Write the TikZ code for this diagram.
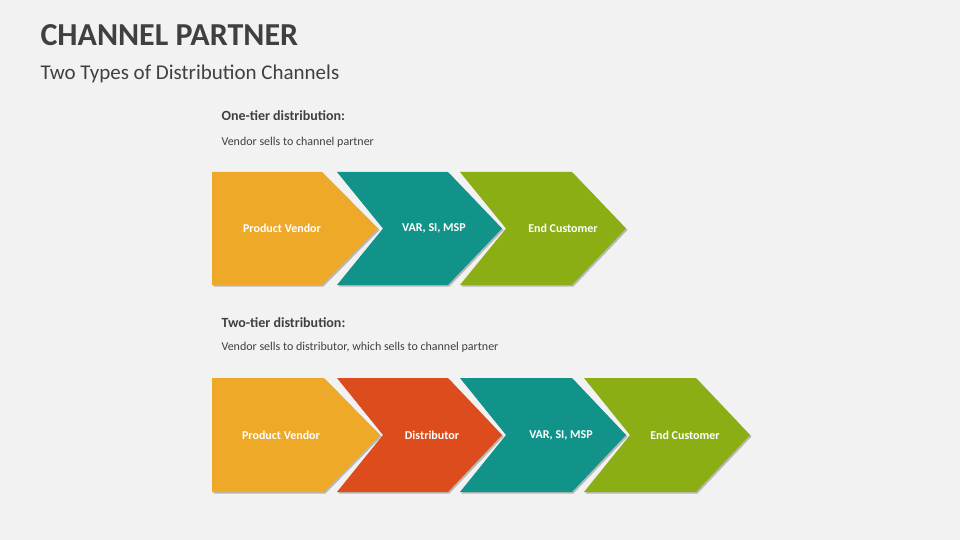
\documentclass[tikz,border=0pt]{standalone}
\usepackage{fontspec}
\setmainfont{Carlito}
\usetikzlibrary{shadows}
\definecolor{bg}{HTML}{F2F2F2}
\definecolor{tx}{HTML}{404040}
\definecolor{cor}{HTML}{EFA929}
\definecolor{cte}{HTML}{12938A}
\definecolor{cgr}{HTML}{8AAE14}
\definecolor{crd}{HTML}{DC4C1C}
\tikzset{shp/.style={draw=none,drop shadow={shadow xshift=1.5pt,shadow yshift=-1.5pt,opacity=0.35,fill=black!70}},
lbl/.style={text=white,font=\bfseries\fontsize{12}{14}\selectfont}}
\begin{document}
\begin{tikzpicture}[x=1pt,y=-1pt]
\fill[bg] (0,0) rectangle (960,540);
\useasboundingbox (0,0) rectangle (960,540);
\node[anchor=west,text=tx,font=\bfseries\fontsize{32}{36}\selectfont] (title) at (37,35) {CHANNEL PARTNER};
\node[anchor=west,text=tx,font=\fontsize{21}{24}\selectfont] (sub) at (37,74) {Two Types of Distribution Channels};
\node[anchor=west,text=tx,font=\bfseries\fontsize{14}{16}\selectfont] (h1) at (218,116) {One-tier distribution:};
\node[anchor=west,text=tx,font=\fontsize{12}{14}\selectfont] (d1) at (218,142) {Vendor sells to channel partner};
\node[anchor=west,text=tx,font=\bfseries\fontsize{14}{16}\selectfont] (h2) at (218,323) {Two-tier distribution:};
\node[anchor=west,text=tx,font=\fontsize{12}{14}\selectfont] (d2) at (218,347) {Vendor sells to distributor, which sells to channel partner};
% row 1
\def\ta{172}\def\tb{285}\def\tm{228.5}
\fill[cor,shp] (212,\ta) -- (322,\ta) -- (378,\tm) -- (322,\tb) -- (212,\tb) -- cycle;
\fill[cte,shp] (337,\ta) -- (448,\ta) -- (502,\tm) -- (448,\tb) -- (337,\tb) -- (383,\tm) -- cycle;
\fill[cgr,shp] (460,\ta) -- (572,\ta) -- (626,\tm) -- (572,\tb) -- (460,\tb) -- (506,\tm) -- cycle;
\node[lbl] (a1) at (282,\tm) {Product Vendor};
\node[lbl] (a2) at (434,\tm) {VAR, SI, MSP};
\node[lbl] (a3) at (563,\tm) {End Customer};
% row 2
\def\ta{378}\def\tb{492}\def\tm{435}
\fill[cor,shp] (212,\ta) -- (324,\ta) -- (380,\tm) -- (324,\tb) -- (212,\tb) -- cycle;
\fill[crd,shp] (337,\ta) -- (448,\ta) -- (502,\tm) -- (448,\tb) -- (337,\tb) -- (383,\tm) -- cycle;
\fill[cte,shp] (460,\ta) -- (572,\ta) -- (626,\tm) -- (572,\tb) -- (460,\tb) -- (506,\tm) -- cycle;
\fill[cgr,shp] (584,\ta) -- (696,\ta) -- (750,\tm) -- (696,\tb) -- (584,\tb) -- (630,\tm) -- cycle;
\node[lbl] (b1) at (281,\tm) {Product Vendor};
\node[lbl] (b2) at (432,\tm) {Distributor};
\node[lbl] (b3) at (561,\tm) {VAR, SI, MSP};
\node[lbl] (b4) at (685,\tm) {End Customer};
\end{tikzpicture}
\end{document}
